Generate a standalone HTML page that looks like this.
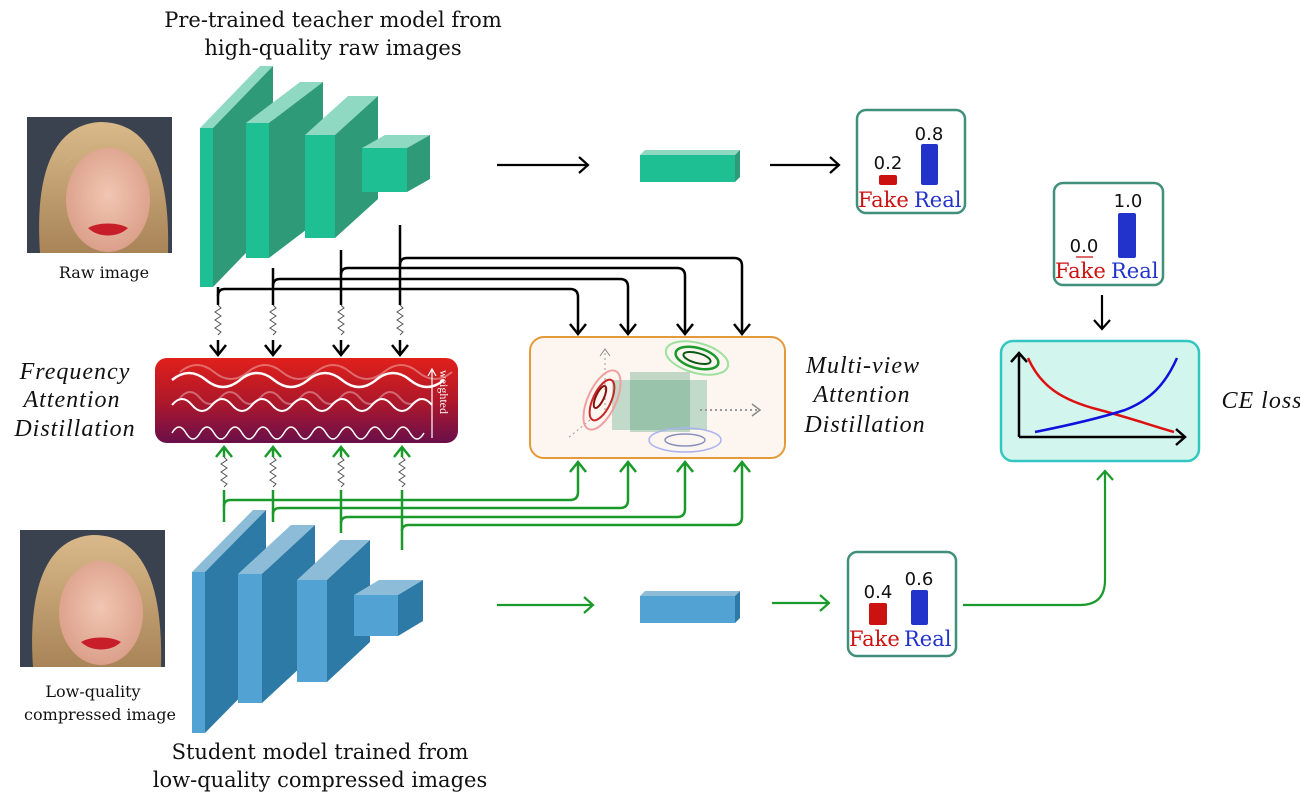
<!DOCTYPE html>
<html><head><meta charset="utf-8"><style>
body{margin:0;background:#fff}
svg{display:block}
.t{font-family:"DejaVu Serif","Liberation Serif",serif;font-size:21px;fill:#111}
.s{font-family:"DejaVu Serif","Liberation Serif",serif;font-size:16px;fill:#111}
.i{font-family:"Liberation Serif",serif;font-style:italic;font-size:24px;fill:#111;letter-spacing:1px}
.n{font-family:"DejaVu Sans","Liberation Sans",sans-serif;font-size:18px;fill:#111}
.fk{font-family:"DejaVu Serif","Liberation Serif",serif;font-size:21px}
</style></head><body>
<svg width="1300" height="807" viewBox="0 0 1300 807" xmlns="http://www.w3.org/2000/svg">
<defs>
<linearGradient id="fg" x1="0" y1="0" x2="0" y2="1"><stop offset="0" stop-color="#e0201a"/><stop offset="0.5" stop-color="#b0182a"/><stop offset="1" stop-color="#6a0f4a"/></linearGradient>
<linearGradient id="hair" x1="0" y1="0" x2="0" y2="1"><stop offset="0" stop-color="#d9b98a"/><stop offset="1" stop-color="#a88457"/></linearGradient>
<radialGradient id="skin" cx="0.5" cy="0.45" r="0.6"><stop offset="0" stop-color="#f1c6b2"/><stop offset="1" stop-color="#d99c86"/></radialGradient>
</defs>

<text class="t" x="333" y="27" text-anchor="middle">Pre-trained teacher model from</text>
<text class="t" x="333" y="55" text-anchor="middle">high-quality raw images</text>
<text class="t" x="320" y="759" text-anchor="middle">Student model trained from</text>
<text class="t" x="320" y="787" text-anchor="middle">low-quality compressed images</text>

<g>
<rect x="27" y="117" width="145" height="136" fill="#3a4250"/>
<path d="M40,253 C35,180 50,125 100,122 C150,122 170,170 168,253 Z" fill="url(#hair)"/>
<ellipse cx="108" cy="200" rx="42" ry="52" fill="url(#skin)"/>
<path d="M62,170 C75,140 140,138 155,170 L150,160 C130,140 80,140 65,162Z" fill="#cfae7c"/>
<path d="M88,228 C98,222 118,222 128,228 C118,238 98,238 88,228Z" fill="#c81e2a"/>
<text class="s" x="104" y="278" text-anchor="middle">Raw image</text>
</g>
<g>
<rect x="20" y="530" width="145" height="137" fill="#3a4250"/>
<path d="M33,667 C28,595 43,538 93,535 C143,535 163,583 161,667 Z" fill="url(#hair)"/>
<ellipse cx="101" cy="613" rx="42" ry="52" fill="url(#skin)"/>
<path d="M81,642 C91,636 111,636 121,642 C111,652 91,652 81,642Z" fill="#c81e2a"/>
<text class="s" x="93" y="697" text-anchor="middle">Low-quality</text>
<text class="s" x="100" y="720" text-anchor="middle">compressed image</text>
</g>

<g>
<polygon points="200,128 260,66 273,66 213,128" fill="#8fd8c2"/>
<polygon points="213,128 273,66 273,225 213,287" fill="#2f9a78"/>
<rect x="200" y="128" width="13" height="159" fill="#1dbf93"/>
<polygon points="246,123 300,82 323,82 269,123" fill="#8fd8c2"/>
<polygon points="269,123 323,82 323,217 269,258" fill="#2f9a78"/>
<rect x="246" y="123" width="23" height="135" fill="#1dbf93"/>
<polygon points="305,135 348,96 378,96 335,135" fill="#8fd8c2"/>
<polygon points="335,135 378,96 378,199 335,238" fill="#2f9a78"/>
<rect x="305" y="135" width="30" height="103" fill="#1dbf93"/>
<polygon points="362,148 385,135 430,135 407,148" fill="#8fd8c2"/>
<polygon points="407,148 430,135 430,179 407,192" fill="#2f9a78"/>
<rect x="362" y="148" width="45" height="44" fill="#1dbf93"/>
</g>
<g>
<polygon points="192,572 253,510 266,510 205,572" fill="#8cbcd8"/>
<polygon points="205,572 266,510 266,671 205,733" fill="#2e7aa6"/>
<rect x="192" y="572" width="13" height="161" fill="#52a3d3"/>
<polygon points="238,574 291,525 315,525 262,574" fill="#8cbcd8"/>
<polygon points="262,574 315,525 315,654 262,703" fill="#2e7aa6"/>
<rect x="238" y="574" width="24" height="129" fill="#52a3d3"/>
<polygon points="297,580 340,540 370,540 327,580" fill="#8cbcd8"/>
<polygon points="327,580 370,540 370,642 327,682" fill="#2e7aa6"/>
<rect x="297" y="580" width="30" height="102" fill="#52a3d3"/>
<polygon points="354,595 379,580 423,580 398,595" fill="#8cbcd8"/>
<polygon points="398,595 423,580 423,621 398,636" fill="#2e7aa6"/>
<rect x="354" y="595" width="44" height="41" fill="#52a3d3"/>
</g>

<!-- teacher connectors -->
<g fill="none" stroke="#000" stroke-width="2.5">
<path d="M218,287 V305"/><path d="M273,268 V305"/><path d="M341,250 V305"/><path d="M400,225 V305"/>
<path d="M218,296 Q218,289 225,289 H570 Q578,289 578,297 V334"/>
<path d="M273,286 Q273,279 280,279 H620 Q628,279 628,287 V334"/>
<path d="M341,275 Q341,268 348,268 H677 Q685,268 685,276 V334"/>
<path d="M400,265 Q400,258 407,258 H734 Q742,258 742,266 V334"/>
<path d="M570,324 L578,334 L586,324 M620,324 L628,334 L636,324 M677,324 L685,334 L693,324 M734,324 L742,334 L750,324"/>
<path d="M218,340 V355 M273,340 V355 M341,340 V355 M400,340 V355"/>
<path d="M210,345 L218,355 L226,345 M265,345 L273,355 L281,345 M333,345 L341,355 L349,345 M392,345 L400,355 L408,345"/>
</g>
<g fill="none" stroke="#555" stroke-width="1">
<path d="M218,305 l3,3 l-6,4 l6,4 l-6,4 l6,4 l-6,4 l6,4 l-3,3"/>
<path d="M273,305 l3,3 l-6,4 l6,4 l-6,4 l6,4 l-6,4 l6,4 l-3,3"/>
<path d="M341,305 l3,3 l-6,4 l6,4 l-6,4 l6,4 l-6,4 l6,4 l-3,3"/>
<path d="M400,305 l3,3 l-6,4 l6,4 l-6,4 l6,4 l-6,4 l6,4 l-3,3"/>
<path d="M224,457 l3,3 l-6,4 l6,4 l-6,4 l6,4 l-6,4 l6,4 l-3,3"/>
<path d="M273,457 l3,3 l-6,4 l6,4 l-6,4 l6,4 l-6,4 l6,4 l-3,3"/>
<path d="M341,457 l3,3 l-6,4 l6,4 l-6,4 l6,4 l-6,4 l6,4 l-3,3"/>
<path d="M402,457 l3,3 l-6,4 l6,4 l-6,4 l6,4 l-6,4 l6,4 l-3,3"/>
</g>

<rect x="155" y="358" width="303" height="85" rx="12" fill="url(#fg)"/>
<g fill="none" stroke="#fff" stroke-width="2.5">
<path d="M172,380 q17,-14 34,0 t34,0 t34,0 t34,0 t34,0 t34,0 t34,0 t34,0" />
<path d="M172,405 q10,-12 20,0 t20,0 t20,0 t20,0 t20,0 t20,0 t20,0 t20,0 t20,0 t20,0 t20,0 t20,0 t20,0" stroke-width="2"/>
<path d="M172,433 q7,-12 14,0 t14,0 t14,0 t14,0 t14,0 t14,0 t14,0 t14,0 t14,0 t14,0 t14,0 t14,0 t14,0 t14,0 t14,0 t14,0 t14,0 t14,0" stroke-width="1.5"/>
</g>
<g fill="none" stroke="#fff" stroke-opacity="0.35" stroke-width="2">
<path d="M180,372 q17,-14 34,0 t34,0 t34,0 t34,0 t34,0 t34,0 t34,0 t34,0"/>
<path d="M180,398 q10,-12 20,0 t20,0 t20,0 t20,0 t20,0 t20,0 t20,0 t20,0 t20,0 t20,0 t20,0 t20,0"/>
</g>
<path d="M432,438 V370 M428,376 L432,369 L436,376" stroke="#fff" stroke-width="1.2" fill="none"/>
<text x="440" y="370" transform="rotate(90 440 370)" font-family="Liberation Serif,serif" font-size="12" fill="#fff">weighted</text>

<g fill="none" stroke="#1a9a2a" stroke-width="2.5">
<path d="M224,490 V522"/><path d="M273,490 V522"/><path d="M341,490 V533"/><path d="M402,490 V550"/>
<path d="M224,506 Q224,500 231,500 H570 Q578,500 578,492 V462"/>
<path d="M273,514 Q273,508 280,508 H620 Q628,508 628,500 V462"/>
<path d="M341,523 Q341,517 348,517 H677 Q685,517 685,509 V462"/>
<path d="M402,531 Q402,525 409,525 H734 Q742,525 742,517 V462"/>
<path d="M224,457 V447"/><path d="M273,457 V447"/><path d="M341,457 V447"/><path d="M402,457 V447"/>
<path d="M216,457 L224,447 L232,457"/><path d="M265,457 L273,447 L281,457"/><path d="M333,457 L341,447 L349,457"/><path d="M394,457 L402,447 L410,457"/>
<path d="M570,472 L578,462 L586,472"/><path d="M620,472 L628,462 L636,472"/><path d="M677,472 L685,462 L693,472"/><path d="M734,472 L742,462 L750,472"/>
</g>

<rect x="530" y="337" width="255" height="121" rx="14" fill="#fdf6f0" stroke="#e49a38" stroke-width="2"/>
<g>
<rect x="612" y="380" width="95" height="50" fill="#7bb89a" opacity="0.45"/>
<rect x="630" y="372" width="60" height="60" fill="#3f8f66" opacity="0.3"/>
<line x1="605" y1="410" x2="605" y2="350" stroke="#999" stroke-dasharray="2,3"/>
<path d="M600,356 L605,349 L610,356" stroke="#888" fill="none"/>
<line x1="700" y1="410" x2="760" y2="410" stroke="#999" stroke-width="2" stroke-dasharray="2,3"/>
<path d="M752,404 L760,410 L752,416" stroke="#888" fill="none" stroke-width="1.5"/>
<line x1="590" y1="420" x2="568" y2="438" stroke="#999" stroke-dasharray="2,3"/>
<ellipse cx="602" cy="400" rx="14" ry="32" transform="rotate(25 602 400)" fill="none" stroke="#f0a0a0" stroke-width="2"/>
<ellipse cx="602" cy="400" rx="9" ry="22" transform="rotate(25 602 400)" fill="none" stroke="#c82828" stroke-width="2"/>
<ellipse cx="600" cy="397" rx="4" ry="12" transform="rotate(25 600 397)" fill="none" stroke="#8a1010" stroke-width="2"/>
<ellipse cx="697" cy="358" rx="32" ry="15" transform="rotate(15 697 358)" fill="none" stroke="#9ee09e" stroke-width="2"/>
<ellipse cx="697" cy="358" rx="22" ry="10" transform="rotate(15 697 358)" fill="none" stroke="#1a9a2a" stroke-width="2.5"/>
<ellipse cx="697" cy="358" rx="14" ry="5" transform="rotate(15 697 358)" fill="none" stroke="#0a5a14" stroke-width="2"/>
<ellipse cx="685" cy="440" rx="36" ry="12" fill="none" stroke="#aab4f0" stroke-width="1.5"/>
<ellipse cx="685" cy="440" rx="20" ry="6" fill="none" stroke="#8890c0" stroke-width="1.5"/>
</g>

<text class="i" x="75" y="379" text-anchor="middle">Frequency</text>
<text class="i" x="72" y="407" text-anchor="middle">Attention</text>
<text class="i" x="75" y="436" text-anchor="middle">Distillation</text>
<text class="i" x="863" y="373" text-anchor="middle">Multi-view</text>
<text class="i" x="862" y="402" text-anchor="middle">Attention</text>
<text class="i" x="865" y="432" text-anchor="middle">Distillation</text>
<text class="i" x="1262" y="408" text-anchor="middle">CE loss</text>

<g fill="none" stroke="#000" stroke-width="2.2">
<path d="M497,165 H587 M579,157 L588,165 L579,173"/>
<path d="M770,165 H838 M830,157 L839,165 L830,173"/>
<path d="M1102,295 V328 M1094,320 L1102,329 L1110,320"/>
</g>
<polygon points="640,155 645,150 740,150 735,155" fill="#8fd8c2"/>
<polygon points="735,155 740,150 740,177 735,182" fill="#2f9a78"/>
<rect x="640" y="155" width="95" height="27" fill="#1dbf93"/>

<g fill="none" stroke="#1a9a2a" stroke-width="2.2">
<path d="M497,605 H592 M584,597 L593,605 L584,613"/>
<path d="M772,603 H828 M820,595 L829,603 L820,611"/>
<path d="M963,605 H1080 Q1105,605 1105,580 V472 M1097,480 L1105,471 L1113,480"/>
</g>
<polygon points="640,596 645,591 740,591 735,596" fill="#8cbcd8"/>
<polygon points="735,596 740,591 740,618 735,623" fill="#2e7aa6"/>
<rect x="640" y="596" width="95" height="27" fill="#52a3d3"/>

<g>
<rect x="857" y="110" width="108" height="103" rx="9" fill="#fff" stroke="#3f8f7a" stroke-width="2.5"/>
<rect x="879" y="175" width="18" height="10" rx="2" fill="#cc1111"/>
<rect x="921" y="144" width="17" height="41" rx="2" fill="#2233cc"/>
<text class="n" x="888" y="169" text-anchor="middle">0.2</text>
<text class="n" x="929" y="140" text-anchor="middle">0.8</text>
<text class="fk" x="858" y="207" fill="#cc1111">Fake</text>
<text class="fk" x="914" y="207" fill="#2233cc">Real</text>
</g>
<g>
<rect x="848" y="552" width="108" height="104" rx="9" fill="#fff" stroke="#3f8f7a" stroke-width="2.5"/>
<rect x="869" y="603" width="18" height="22" rx="2" fill="#cc1111"/>
<rect x="911" y="590" width="17" height="35" rx="2" fill="#2233cc"/>
<text class="n" x="878" y="598" text-anchor="middle">0.4</text>
<text class="n" x="919" y="585" text-anchor="middle">0.6</text>
<text class="fk" x="849" y="646" fill="#cc1111">Fake</text>
<text class="fk" x="904" y="646" fill="#2233cc">Real</text>
</g>
<g>
<rect x="1054" y="183" width="109" height="102" rx="9" fill="#fff" stroke="#3f8f7a" stroke-width="2.5"/>
<line x1="1076" y1="257" x2="1093" y2="257" stroke="#cc1111" stroke-width="1.2"/>
<rect x="1118" y="213" width="18" height="45" rx="2" fill="#2233cc"/>
<text class="n" x="1084" y="252" text-anchor="middle">0.0</text>
<text class="n" x="1128" y="207" text-anchor="middle">1.0</text>
<text class="fk" x="1055" y="278" fill="#cc1111">Fake</text>
<text class="fk" x="1111" y="278" fill="#2233cc">Real</text>
</g>

<rect x="1001" y="341" width="198" height="120" rx="12" fill="#d2f6ee" stroke="#33c6c0" stroke-width="2.5"/>
<g fill="none" stroke="#000" stroke-width="2.5">
<path d="M1019,437 V354 M1011,362 L1019,353 L1027,362"/>
<path d="M1019,437 H1184 M1176,429 L1185,437 L1176,445"/>
</g>
<path d="M1028,358 C1040,385 1060,400 1100,410 C1130,418 1150,425 1174,432" fill="none" stroke="#dd1111" stroke-width="2.5"/>
<path d="M1035,432 C1070,425 1100,418 1125,410 C1150,400 1165,385 1177,358" fill="none" stroke="#1111dd" stroke-width="2.5"/>
</svg>
</body></html>
